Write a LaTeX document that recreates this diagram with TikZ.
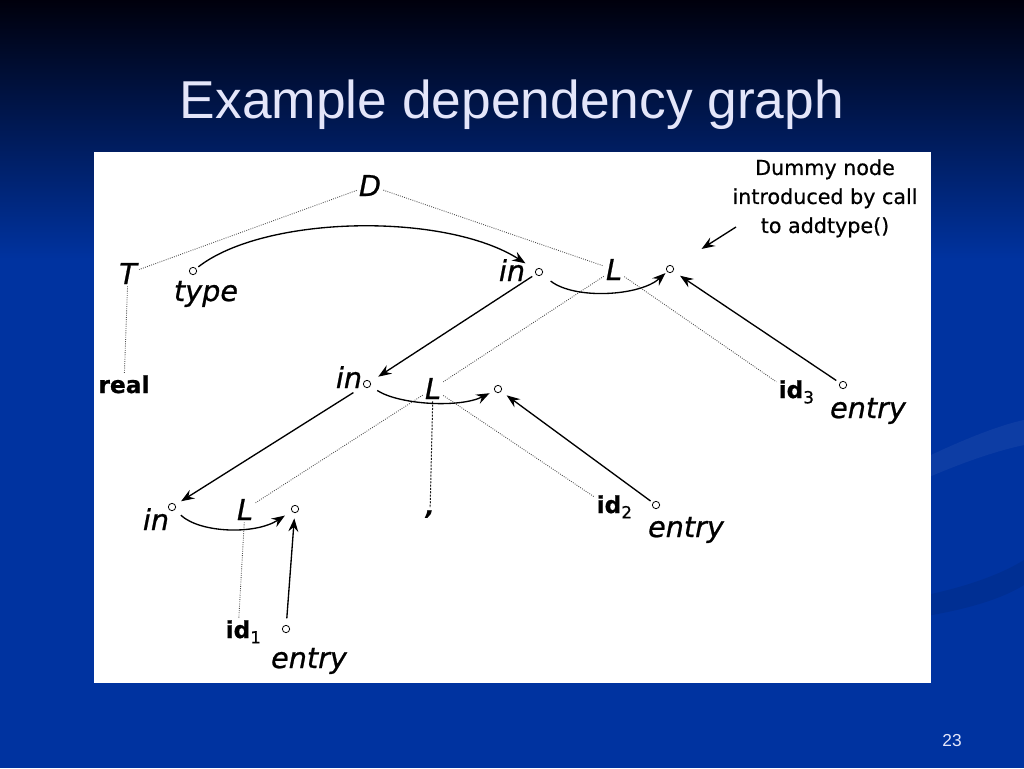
\documentclass[tikz,border=0pt]{standalone}
\usepackage{fontspec}
\setmainfont{Liberation Sans}
\newfontfamily\dfont[FakeBold=0.8]{DejaVu Sans}
\newfontfamily\nfont[FakeBold=0.5]{DejaVu Sans}
\newfontfamily\tfont[FakeBold=-0.5]{Liberation Sans}
\usetikzlibrary{arrows.meta}
\definecolor{bgblue}{HTML}{0033A0}
\definecolor{bgtop}{HTML}{00000C}
\definecolor{titlecol}{HTML}{E4E6FA}
\begin{document}
\begin{tikzpicture}[x=0.75pt,y=-0.75pt,
  lab/.style={font=\dfont\itshape\fontsize{21.5}{23}\selectfont, inner sep=1.5pt, anchor=base},
  bold/.style={font=\dfont\bfseries\fontsize{17.5}{19}\selectfont, inner sep=1.5pt, anchor=base},
  dot/.style={circle, draw, line width=0.6pt, minimum size=5.5pt, inner sep=0pt, fill=white},
  dep/.style={line width=1pt, -{Stealth[length=10pt,width=7.5pt,inset=3.5pt]}},
  tree/.style={densely dotted, line width=0.65pt, black!70},
  treedark/.style={dash pattern=on 1.5pt off 1pt, line width=0.75pt, black!90},
]
\useasboundingbox (0,0) rectangle (1024,768);
% background
\fill[bgblue] (0,0) rectangle (1024,768);
\shade[top color=bgtop, bottom color=bgblue] (0,0) rectangle (1024,260);
\fill[white, opacity=0.05] (900,470) .. controls (960,440) and (1000,425) .. (1024,420) -- (1024,445) .. controls (1000,450) and (960,462) .. (900,490) -- cycle;
\fill[black, opacity=0.08] (900,600) .. controls (960,590) and (1000,575) .. (1024,560) -- (1024,585) .. controls (1000,600) and (960,612) .. (900,620) -- cycle;
% title
\node[anchor=base, text=titlecol, font=\fontsize{40}{46}\selectfont, inner sep=0pt] (title) at (512,118) {Example dependency graph};
\node[anchor=base, text=titlecol, font=\fontsize{13}{15}\selectfont, inner sep=0pt] (pagenum) at (952,746) {23};
% panel
\fill[white] (94,152) rectangle (931,683);

% labels
\node[lab] (D) at (370,196) {D};
\node[lab] (T) at (128,284) {T};
\node[lab] (type) at (206,301) {type};
\node[lab] (in1) at (512,281) {in};
\node[lab] (L1) at (614,280) {L};
\node[lab] (in2) at (349,388) {in};
\node[lab] (L2) at (433,399) {L};
\node[lab] (in3) at (156,530) {in};
\node[lab] (L3) at (245,520) {L};
\node[bold] (real) at (124,393) {real};
\node[bold] (id3) at (791,398) {id\rlap{\raisebox{-4pt}{\mdseries\fontsize{12.5}{12}\selectfont 3}}};
\node[bold] (id2) at (609,513) {id\rlap{\raisebox{-4pt}{\mdseries\fontsize{12.5}{12}\selectfont 2}}};
\node[bold] (id1) at (238,638) {id\rlap{\raisebox{-4pt}{\mdseries\fontsize{12.5}{12}\selectfont 1}}};
\node[lab] (entry3) at (868,418) {entry};
\node[lab] (entry2) at (686,537) {entry};
\node[lab] (entry1) at (309,668) {entry};
\node[bold, anchor=center, font=\dfont\bfseries\itshape\fontsize{17}{18}\selectfont] (comma) at (430,514) {,};
\node[font=\nfont\fontsize{15.5}{21.75}\selectfont, align=center, anchor=north, inner sep=0pt] (note) at (825,159) {Dummy node\\introduced by call\\to addtype()};

% attribute dots
\node[dot] (ctype) at (193,271) {};
\node[dot] (cin1) at (539,272) {};
\node[dot] (cd) at (670,269) {};
\node[dot] (cin2) at (367,384) {};
\node[dot] (c2) at (498,389) {};
\node[dot] (ce3) at (843,385) {};
\node[dot] (ce2) at (656,505) {};
\node[dot] (cin3) at (172,507) {};
\node[dot] (c3) at (295,509) {};
\node[dot] (ce1) at (286,629) {};
\coordinate (ns) at (736,227);

% parse tree (dotted)
\draw[tree] (D) -- (T);
\draw[tree] (D) -- (L1);
\draw[tree] (T) -- (real);
\draw[tree] (L1) -- (L2);
\draw[tree] (L1) -- (id3);
\draw[tree] (L2) -- (L3);
\draw[tree] (L2) -- (id2);
\draw[tree] (L3) -- (id1);
\draw[treedark] (L2) -- (comma);

% dependency edges
\draw[dep, shorten <=2pt, shorten >=9pt] (ctype) .. controls (265,215) and (445,212) .. (cin1);
\draw[dep, shorten <=8pt, shorten >=1.5pt] (cin1) .. controls (575,300) and (640,296) .. (cd);
\draw[dep, shorten <=6pt, shorten >=4pt] (cin2) .. controls (400,405) and (460,408) .. (c2);
\draw[dep, shorten <=6pt, shorten >=6pt] (cin3) .. controls (200,533) and (255,535) .. (c3);
\draw[dep, shorten <=3pt, shorten >=7pt] (cin1) -- (cin2);
\draw[dep, shorten <=9pt, shorten >=5pt] (cin2) -- (cin3);
\draw[dep, shorten <=3pt, shorten >=6pt] (ce3) -- (cd);
\draw[dep, shorten <=2pt, shorten >=5pt] (ce2) -- (c2);
\draw[dep, shorten <=5pt, shorten >=4pt] (ce1) -- (c3);
\draw[dep, shorten >=25pt] (ns) -- (cd);
\end{tikzpicture}
\end{document}
